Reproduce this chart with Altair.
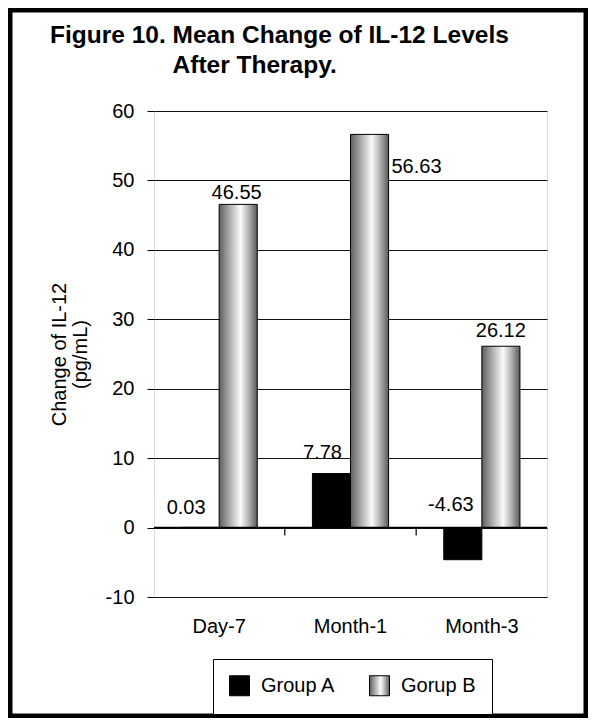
import altair as alt
import pandas as pd

# ---- data ----
categories = ["Day-7", "Month-1", "Month-3"]
groups = ["Group A", "Gorup B"]
group_a = [0.03, 7.78, -4.63]
group_b = [46.55, 56.63, 26.12]
y_ticks = [-10, 0, 10, 20, 30, 40, 50, 60]
title_lines = ["Figure 10. Mean Change of IL-12 Levels", "After Therapy."]
y_title = ["Change of IL-12", "(pg/mL)"]

rows = []
for c, a, b in zip(categories, group_a, group_b):
    rows.append({"period": c, "group": groups[0], "value": a})
    rows.append({"period": c, "group": groups[1], "value": b})
df = pd.DataFrame(rows)

FONT = "Liberation Sans"
W, H = 393, 486
PAD = {"left": 146, "top": 103, "right": 41, "bottom": 121}

gradient_expr = (
    "{gradient: 'linear', x1: 0, y1: 0, x2: 1, y2: 0, stops: ["
    "{offset: 0, color: '#5e5e5e'}, {offset: 0.3, color: '#b4b4b4'}, "
    "{offset: 0.56, color: '#fbfbfb'}, {offset: 0.78, color: '#b0b0b0'}, "
    "{offset: 1, color: '#5a5a5a'}]}"
)

x_scale = alt.Scale(domain=categories, paddingInner=0.42, paddingOuter=0.206)
y_scale = alt.Scale(domain=[-10, 60], nice=False, zero=False)

x_axis = alt.Axis(title=None, labelAngle=0, ticks=False, domain=False, grid=False,
                  labelFontSize=20, labelFont=FONT, labelColor="black", labelPadding=19)
y_axis = alt.Axis(values=y_ticks, title=y_title, grid=True, gridColor="#111", gridWidth=1,
                  domain=False, tickColor="black", tickSize=7, tickWidth=1,
                  labelExpr="replace(datum.label, '\u2212', '-')",
                  labelFontSize=20, labelFont=FONT, labelColor="black", labelPadding=13,
                  titleFontSize=20, titleFont=FONT, titleFontWeight="normal", titleColor="black",
                  titlePadding=15, titleLineHeight=21)

base = alt.Chart(df).transform_calculate(
    label="replace(format(datum.value, '.2f'), '\u2212', '-')"
)

bars = base.mark_bar(stroke="black", strokeWidth=1).encode(
    x=alt.X("period:N", sort=categories, scale=x_scale, axis=x_axis),
    xOffset=alt.XOffset("group:N", sort=groups, scale=alt.Scale(paddingInner=0, paddingOuter=0)),
    y=alt.Y("value:Q", scale=y_scale, axis=y_axis),
    color=alt.Color(
        "group:N",
        sort=groups,
        scale=alt.Scale(domain=groups, range=["black", alt.ExprRef(gradient_expr)]),
        legend=alt.Legend(title=None, orient="none", legendX=59, legendY=548,
                          direction="horizontal", strokeColor="black", fillColor="white",
                          padding=16, symbolType="square", symbolSize=400,
                          symbolStrokeColor="black", symbolStrokeWidth=1,
                          labelFontSize=20, labelFont=FONT, labelColor="black",
                          labelOffset=11, columnPadding=31),
    ),
)

zero_line = alt.Chart(alt.Data(values=[{}])).mark_rule(color="black", strokeWidth=1.5).encode(
    y=alt.datum(0, scale=y_scale)
)

dividers = base.transform_filter(
    (alt.datum.period != categories[0]) & (alt.datum.group == groups[0])
).mark_rule(color="black", strokeWidth=1.2, xOffset=-27.6, y2Offset=8).encode(
    x=alt.X("period:N", sort=categories, scale=x_scale, bandPosition=0),
    y=alt.datum(0),
    y2=alt.datum(0),
)

# label placement (style only): (category, group, align, dx, dy)
label_styles = [
    (categories[0], groups[0], "center", -33, -13),
    (categories[0], groups[1], "center", 17.5, -5),
    (categories[1], groups[0], "center", -28, -15),
    (categories[1], groups[1], "left", 41, 39),
    (categories[2], groups[0], "center", -31, -49),
    (categories[2], groups[1], "center", 19, -9),
]
labels = []
for cat, grp, align, dx, dy in label_styles:
    labels.append(
        base.transform_filter((alt.datum.period == cat) & (alt.datum.group == grp))
        .mark_text(align=align, baseline="alphabetic", dx=dx, dy=dy,
                   fontSize=20, font=FONT, color="black")
        .encode(
            x=alt.X("period:N", sort=categories, scale=x_scale),
            y=alt.Y("value:Q", scale=y_scale),
            text=alt.Text("label:N"),
        )
    )

frame = alt.Chart(alt.Data(values=[{}])).mark_rect(filled=False, stroke="black", strokeWidth=9).encode(
    x=alt.value(-PAD["left"]), x2=alt.value(W + PAD["right"]),
    y=alt.value(-PAD["top"]), y2=alt.value(H + PAD["bottom"]),
)

chart = alt.layer(bars, zero_line, dividers, *labels, frame).properties(
    width=W, height=H,
    padding=PAD,
    autosize=alt.AutoSizeParams(type="none"),
    title=alt.TitleParams(
        text=[title_lines[0], "\u200b" + "\u00a0" * 18 + title_lines[1]],
        anchor="start", frame="group", dx=-104, dy=79, offset=4,
        font=FONT, fontSize=24.5, fontWeight="bold", color="black", lineHeight=30,
    ),
).configure_view(stroke="black", strokeWidth=2).configure_legend(strokeWidth=1.5).configure(
    background="white"
)

chart.save("out.html", embed_options={"renderer": "svg", "actions": False})
